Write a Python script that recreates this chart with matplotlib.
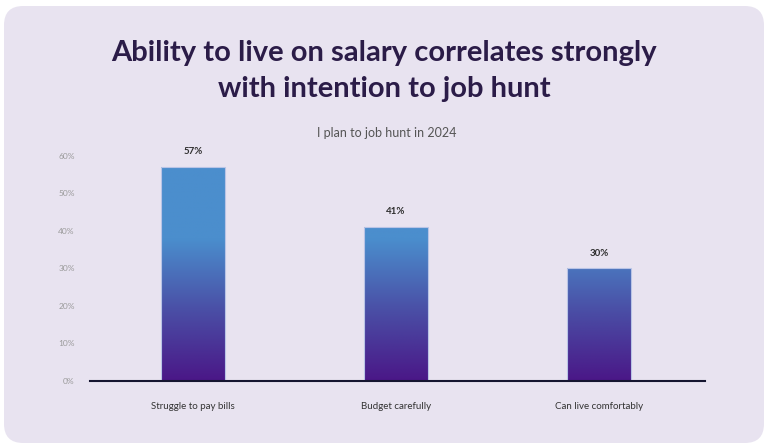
import numpy as np
import matplotlib
matplotlib.use('Agg')
import matplotlib.pyplot as plt
from matplotlib.patches import FancyBboxPatch
from matplotlib.colors import LinearSegmentedColormap, Normalize

categories = ['Struggle to pay bills', 'Budget carefully', 'Can live comfortably']
values = [57, 41, 30]
value_labels = ['57%', '41%', '30%']
yticks = [0, 10, 20, 30, 40, 50, 60]

plt.rcParams['font.family'] = ['Lato', 'DejaVu Sans']

fig = plt.figure(figsize=(7.68, 4.48), dpi=100)
fig.patch.set_facecolor('white')

# rounded lavender panel
panel = FancyBboxPatch((4 / 768, 5 / 448), 760 / 768, 437 / 448,
                       boxstyle='round,pad=0,rounding_size=0.025',
                       transform=fig.transFigure, facecolor='#E8E3F0',
                       edgecolor='none', mutation_aspect=768 / 448, zorder=-5)
fig.add_artist(panel)

ax = fig.add_axes([90 / 768, 67.3 / 448, 615 / 768, 225 / 448])
ax.set_facecolor('none')
ax.set_zorder(2)

x = np.arange(len(categories))
width = 0.315
cmap = LinearSegmentedColormap.from_list('grad', ['#4A1787', '#4A4FA6', '#4B8ECD'])
norm = Normalize(0, 38)

bars = ax.bar(x, values, width=width, color='none', edgecolor='#B9C4E6', linewidth=0.8, zorder=3)
for b in bars:
    x0 = b.get_x()
    h = b.get_height()
    yy = np.linspace(0, h, 300).reshape(-1, 1)
    im = ax.imshow(yy, cmap=cmap, norm=norm, origin='lower', aspect='auto',
                   extent=[x0, x0 + b.get_width(), 0, h], zorder=2)
    im.set_clip_path(b)

for xi, v, lab in zip(x, values, value_labels):
    ax.text(xi, v + 4.0, lab, ha='center', va='center', fontsize=7, fontweight='bold',
            color='#2E2E2E', clip_on=False)

ax.set_xlim(-0.507, 2.522)
ax.set_ylim(0, 60)
ax.set_yticks(yticks)
ax.set_yticklabels([f'{t}%' for t in yticks], fontsize=6, color='#9A9A9A')
ax.set_xticks(x)
ax.set_xticklabels(categories, fontsize=7, color='#333333')
ax.tick_params(axis='both', length=0)
ax.tick_params(axis='y', pad=11)
ax.tick_params(axis='x', pad=15)
for s in ['top', 'right', 'left']:
    ax.spines[s].set_visible(False)
ax.spines['bottom'].set_color('#151530')
ax.spines['bottom'].set_linewidth(1.5)
ax.spines['bottom'].set_zorder(4)

fig.text(0.5, 1 - 71 / 448, 'Ability to live on salary correlates strongly\nwith intention to job hunt',
         ha='center', va='center', fontsize=21, fontweight='bold', color='#2B1C48',
         linespacing=1.45)
fig.text(0.503, 1 - 133 / 448, 'I plan to job hunt in 2024', ha='center', va='center',
         fontsize=9, color='#555555')

fig.savefig('out.png', dpi=100, facecolor='white')
